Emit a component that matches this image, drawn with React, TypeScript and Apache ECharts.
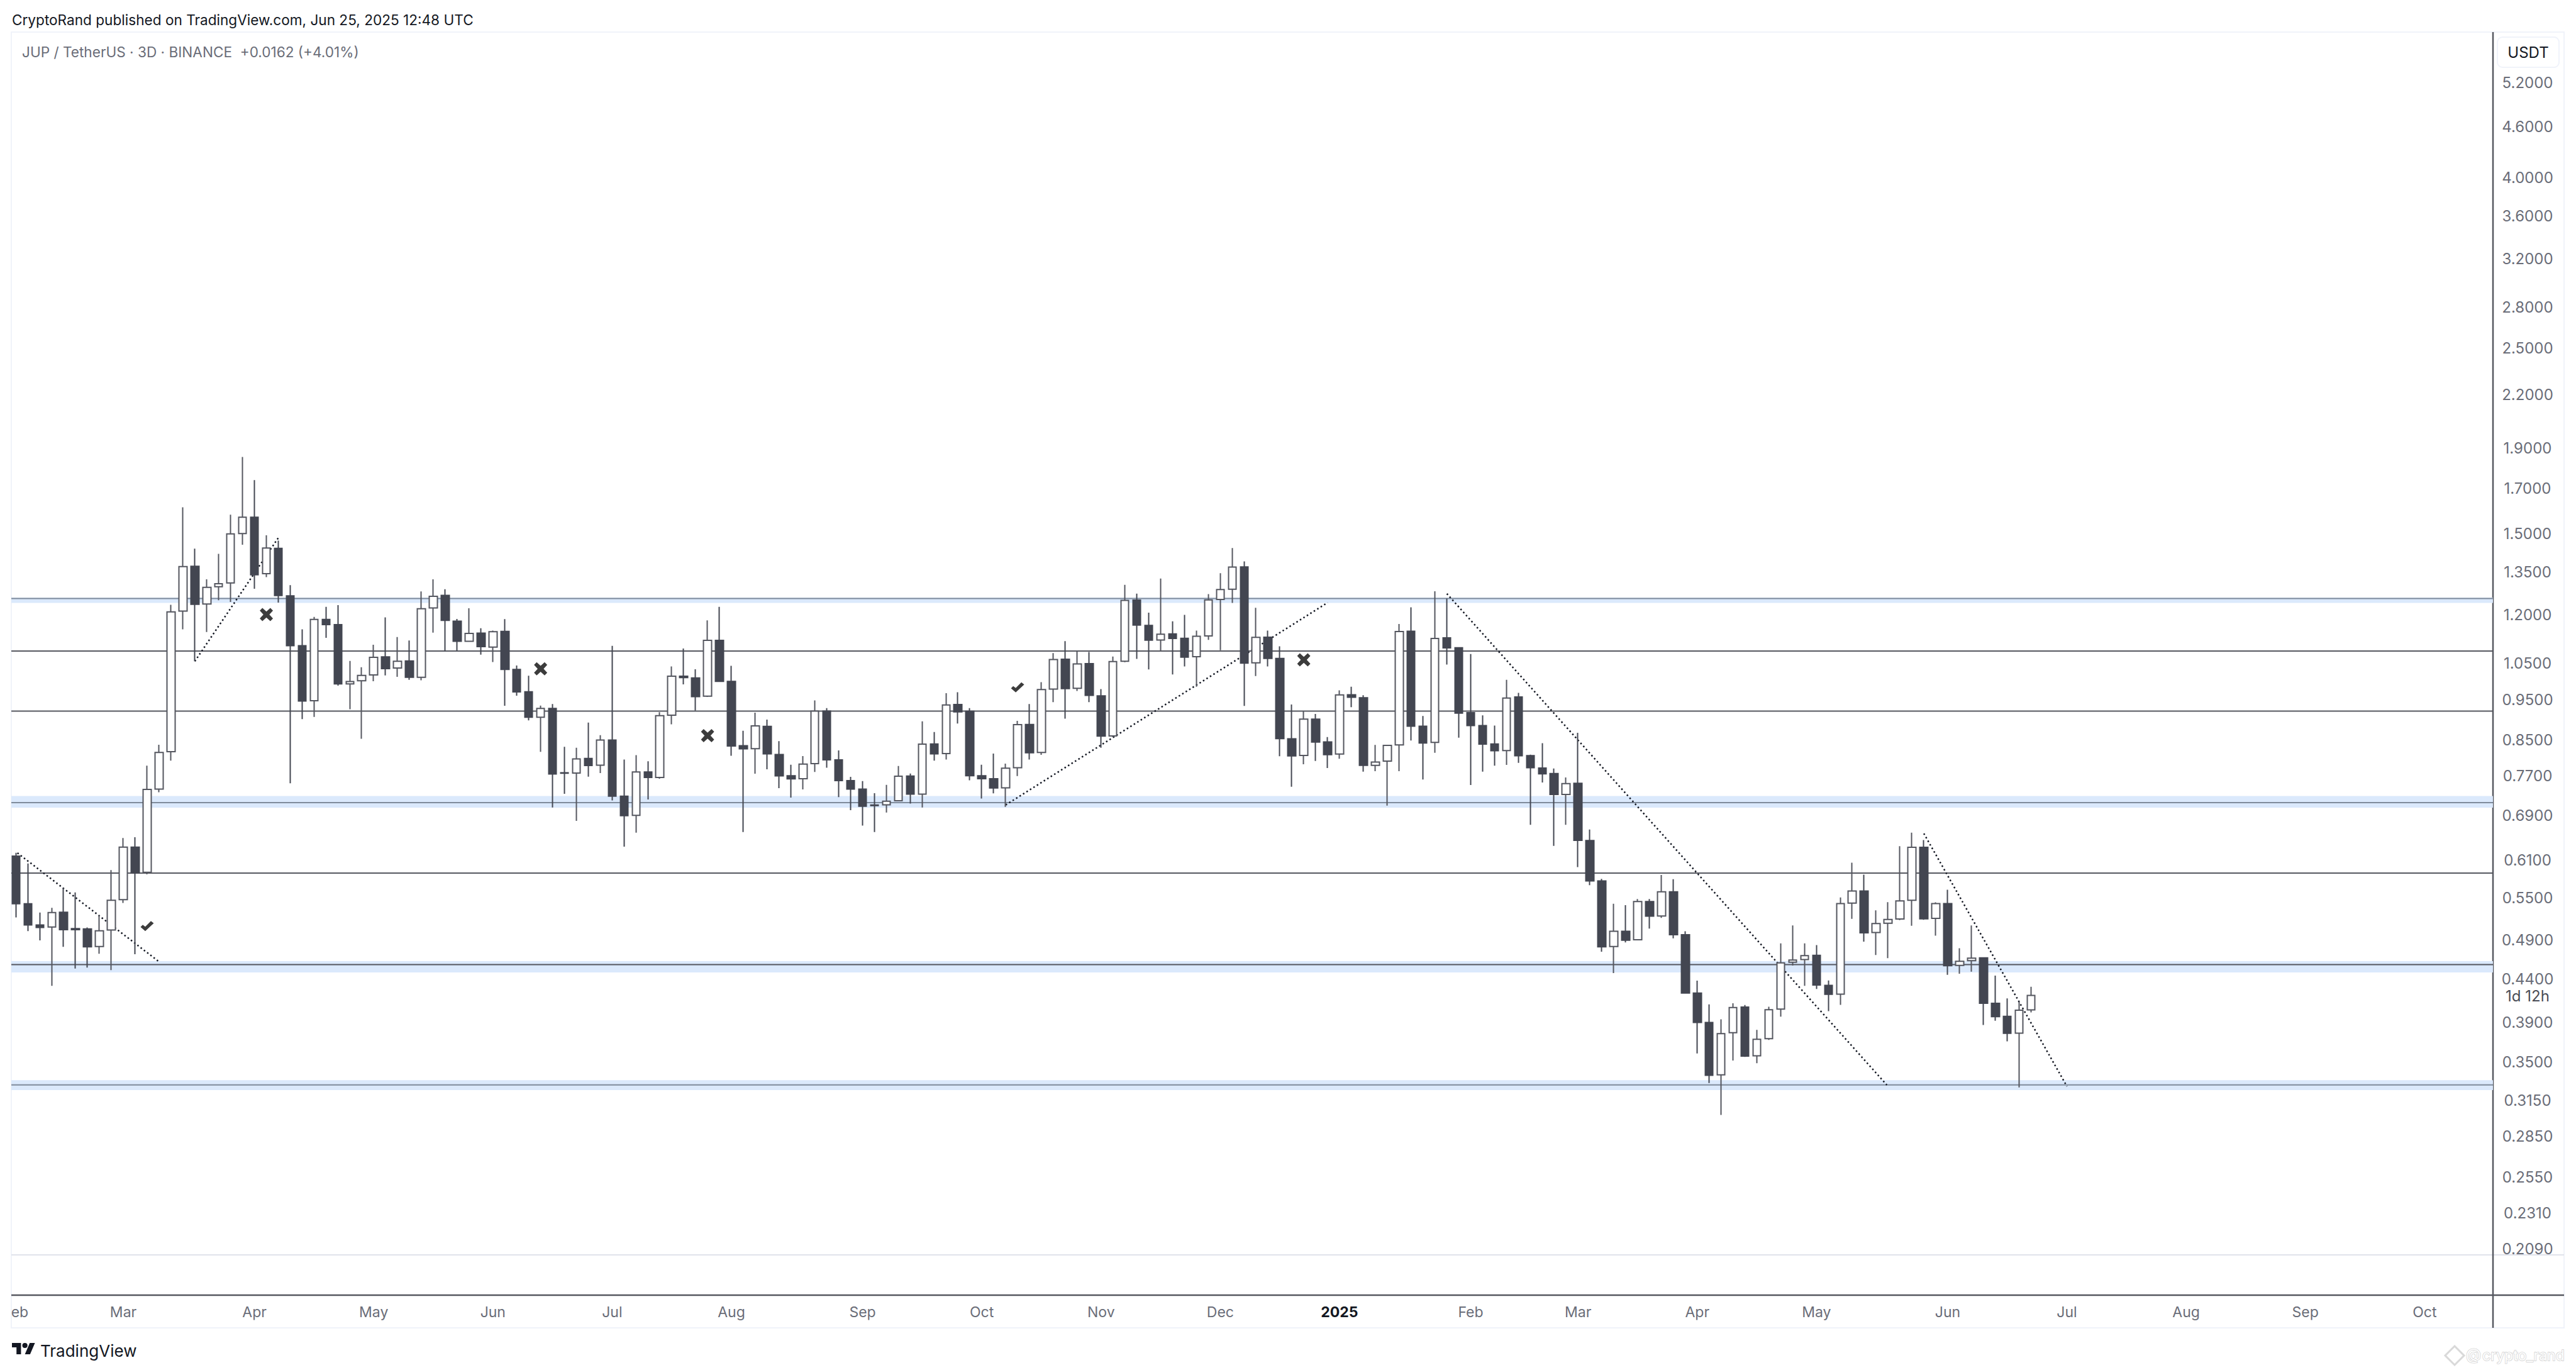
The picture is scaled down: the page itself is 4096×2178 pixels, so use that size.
import React, { useEffect, useRef } from "react";
import * as echarts from "echarts";

const opens = [
.6172,.5414,.5106,.5076,.5288,.5055,.505,.4812,.5036,.5474,
.6326,.5904,.7424,.8231,1.212,1.3713,1.236,1.2965,1.3098,1.501,
1.57,1.3437,1.441,1.264,1.102,.9468,1.1846,1.168,.992,1.0007,
1.0168,1.0684,1.0364,1.0568,1.0101,1.2226,1.2658,1.1792,1.1156,1.1406,
1.0979,1.1463,1.032,.9707,.905,.9271,.7766,.776,.8078,.7927,
.8496,.728,.6905,.7782,.7666,.91,1.0131,1.0084,.959,1.1185,
.9989,.8366,.8298,.8825,.8167,.7703,.764,.7964,.9204,.8047,
.76,.7423,.7106,.7109,.719,.7695,.732,.8407,.8185,.9372,
.9199,.77,.7639,.745,.7872,.887,.821,.9779,1.0615,.9797,
1.0488,.9598,.8595,1.0555,1.2493,1.1654,1.1194,1.1383,1.1248,1.0689,
1.1321,1.2516,1.2876,1.3693,1.0513,1.128,1.0641,.8527,.8144,.9002,
.8452,.8175,.9628,.9548,.7924,.8017,.8383,1.1467,.8826,.8441,
1.126,1.0958,.9162,.8842,.8407,.8253,.9567,.8142,.7866,.7748,
.7315,.7544,.6443,.5763,.4811,.5018,.4902,.5447,.5234,.5595,
.4971,.4232,.3903,.3379,.3794,.4073,.356,.3732,.405,.4608,
.4642,.4695,.4324,.422,.5422,.5607,.5,.5131,.5191,.5466,
.6324,.5199,.5415,.4568,.4628,.4664,.4115,.3969,.379,.4041,
];
const closes = [
.5414,.5106,.5071,.5283,.504,.504,.4807,.5025,.5464,.6326,
.5892,.7417,.8212,1.2097,1.37,1.2347,1.294,1.307,1.4995,1.57,
1.34,1.442,1.265,1.102,.946,1.1846,1.168,.992,.9985,1.0154,
1.0672,1.0346,1.0557,1.0101,1.22,1.2626,1.1815,1.1156,1.1398,1.0993,
1.1455,1.032,.97,.905,.9271,.774,.7755,.8068,.7922,.8496,
.728,.69,.7782,.7666,.9087,1.0131,1.0091,.9577,1.1185,.9989,
.836,.8292,.8835,.8178,.7698,.7635,.7953,.9204,.8047,.76,
.7423,.7081,.7092,.7181,.769,.732,.8403,.8179,.9361,.9182,
.77,.7639,.7447,.7864,.8864,.8204,.9765,1.0607,.979,1.048,
.9609,.8589,1.055,1.2486,1.1661,1.1187,1.1375,1.124,1.0676,1.1308,
1.2501,1.286,1.3684,1.0501,1.1275,1.0641,.8532,.8134,.9002,.8449,
.8163,.9622,.9561,.7924,.7997,.8373,1.1459,.8826,.8429,1.1239,
1.0953,.9151,.8842,.8401,.8249,.9541,.8137,.7872,.7742,.7315,
.7538,.6445,.5763,.4808,.5018,.4895,.5447,.523,.5595,.4971,
.4232,.3903,.3375,.3785,.4067,.3557,.3727,.4042,.4599,.4635,
.4692,.4326,.4218,.5416,.5607,.4997,.5125,.5184,.5456,.6324,
.5193,.5415,.4564,.462,.466,.4115,.3966,.3788,.4037,.4204,
];
const highs = [
.6228,.6048,.5283,.5353,.5655,.5584,.507,.5242,.594,.6488,
.6502,.7918,.8389,1.2332,1.6135,1.4395,1.3228,1.4194,1.5806,1.853,
1.7387,1.4935,1.472,1.302,1.1525,1.1929,1.2264,1.232,1.0568,1.0386,
1.1047,1.1914,1.1287,1.1177,1.2797,1.3228,1.2876,1.186,1.2214,1.156,
1.1486,1.1856,1.0434,1.0143,.9345,.9382,.8342,.832,.8915,.8614,
1.1016,.8053,.815,.8016,.9174,1.0406,1.0935,1.0327,1.1815,1.2262,
1.0427,.8716,.9161,.899,.8472,.7937,.813,.9479,.9278,.8258,
.7677,.7589,.7341,.751,.7911,.7747,.8946,.8688,.967,.9692,
.9278,.794,.8185,.7963,.8958,.9383,.9964,1.0797,1.116,1.0877,
1.083,.9779,1.0696,1.3029,1.2717,1.207,1.3257,1.1786,1.1998,1.149,
1.2701,1.3453,1.4422,1.3899,1.2231,1.149,1.0999,.9372,.921,.913,
.8566,.9742,.9843,.9615,.8383,.8383,1.1699,1.2247,.9078,1.2801,
1.2551,1.0966,1.0768,.9095,.8842,1.003,.9678,.8163,.8423,.7855,
.7664,.8668,.6641,.5796,.5412,.5392,.5483,.5483,.5859,.5792,
.5018,.4379,.4103,.3937,.4115,.4096,.3824,.4075,.4854,.5099,
.4854,.483,.4381,.5508,.6061,.5864,.5316,.5437,.6344,.6583,
.6451,.5434,.5626,.4788,.5099,.4668,.444,.4171,.413,.4307,
];
const lows = [
.5212,.5021,.4894,.4317,.4807,.4528,.454,.4716,.4508,.5424,
.4711,.5869,.736,.8028,1.1525,1.0557,1.1444,1.249,1.243,1.455,
1.289,1.331,1.241,.7544,.9,.9055,1.126,.987,.925,.8526,
.9991,1.0154,1.0112,1.003,1.0016,1.1425,1.0847,1.086,1.114,1.0751,
1.0534,.9338,.96,.897,.8224,.7057,.7327,.68,.7683,.776,
.7195,.6334,.6583,.7213,.764,.8875,.9904,.9215,.957,.9975,
.8136,.6596,.7746,.7839,.7442,.7252,.7418,.7782,.7874,.7262,
.7005,.6714,.6596,.6959,.718,.7133,.7055,.8029,.8054,.8891,
.7605,.7233,.7337,.7068,.7696,.8054,.8159,.9434,.9014,.9728,
.9434,.832,.8564,1.053,1.0628,1.0321,1.0864,1.0179,1.0408,.984,
1.12,1.0883,1.2399,.9335,1.0136,1.0408,.8126,.7473,.7949,.802,
.7866,.8069,.9303,.7789,.7798,.7092,.7798,.8486,.7621,.8203,
1.0462,.8554,.7507,.7789,.7918,.7934,.7981,.6729,.7559,.6349,
.6729,.5989,.5698,.4744,.4472,.4865,.4895,.5055,.5205,.492,
.4226,.3583,.3304,.3025,.3514,.355,.3488,.372,.3966,.4565,
.4318,.4281,.4026,.4097,.5193,.4876,.47,.466,.5175,.5094,
.5178,.4958,.445,.4464,.449,.3876,.3922,.3705,.3264,.4012,
];

const BAR_SLOTS = 208;
const monthLabels: [number, string][] = [
  [0, "eb"], [9, "Mar"], [20, "Apr"], [30, "May"], [40, "Jun"], [50, "Jul"], [60, "Aug"], [71, "Sep"],
  [81, "Oct"], [91, "Nov"], [101, "Dec"], [111, "2025"], [122, "Feb"], [131, "Mar"], [141, "Apr"],
  [151, "May"], [162, "Jun"], [172, "Jul"], [182, "Aug"], [192, "Sep"], [202, "Oct"],
];
const priceTicks = [5.2, 4.6, 4.0, 3.6, 3.2, 2.8, 2.5, 2.2, 1.9, 1.7, 1.5, 1.35, 1.2, 1.05, 0.95, 0.85, 0.77, 0.69, 0.61, 0.55, 0.49, 0.44, 0.39, 0.35, 0.315, 0.285, 0.255, 0.231, 0.209];
const plainLevels = [1.0858, 0.9202, 0.589, 0.4577];
const zoneLevels = [1.2548, 0.7151, 0.3287];
const zoneTops = [1.2581, 0.7283, 0.4621, 0.333];
const zoneBottoms = [1.2397, 0.7053, 0.4479, 0.3239];
const trendLines: [number, number, number, number][] = [
  [0.12, 0.6226, 12.04, 0.4609],
  [15, 1.0556, 22, 1.4832],
  [83, 0.7106, 110, 1.2408],
  [120, 1.2717, 156.9, 0.3285],
  [160, 0.6569, 172, 0.3273],
];
const crossMarks = [[21, 1.2006], [44, 1.034], [58, 0.86], [108, 1.0597]];
const checkMarks = [[11, 0.509], [84, 0.9825]];

const PRICE_MAX = 5.974;
const PRICE_MIN = 0.18415;
const BAR_X_MIN = -0.3903;
const BAR_X_MAX = 207.73;

const DARK = "#434651";
const EDGE = "#54565f";
const FAINT = "#f0f3fa";
const TEXT_GREY = "#6a6d78";
const SANS = "Inter";

const X_PATH = "path://M4 0L10 5.5L16 0L20 4L14.5 10L20 16L16 20L10 14.5L4 20L0 16L5.5 10L0 4Z";
const CHECK_PATH = "path://M0 9.5L3.5 6L7.5 9L16.5 0L21 3.5L7.5 16Z";
const LOGO_D = "M14 22H7V11H0V4h14v18zM28 22h-8l7.5-18h8L28 22zM24 8a4 4 0 1 1-8 0 4 4 0 0 1 8 0z";

export default function App() {
  const ref = useRef<HTMLDivElement>(null);
  useEffect(() => {
    echarts.graphic.registerShape("tvlogo", echarts.graphic.extendPath(LOGO_D, {}));
    const chart = echarts.init(ref.current!, null, { renderer: "svg" });
    const labelAt = new Map(monthLabels);
    const categories = Array.from({ length: BAR_SLOTS }, (_, i) => String(i));
    const hline = (level: number, color: string, width: number) => (params: any, api: any) => {
      const a = api.coord([BAR_X_MIN, level]);
      const b = api.coord([BAR_X_MAX, level]);
      return { type: "line", shape: { x1: a[0], y1: a[1], x2: b[0], y2: b[1] }, style: { stroke: color, lineWidth: width } };
    };
    const option: any = {
      animation: false,
      backgroundColor: "#ffffff",
      grid: [
        { left: 15.92, top: 51, width: 3943.68, height: 2008 },
        { left: 18, top: 51, width: 3946, height: 2008 },
      ],
      xAxis: [
        {
          type: "category",
          gridIndex: 0,
          data: categories,
          axisLine: { show: false },
          axisTick: { show: false },
          splitLine: { show: false },
          axisLabel: {
            interval: 0,
            margin: 15,
            fontFamily: SANS,
            fontSize: 23,
            color: TEXT_GREY,
            formatter: (v: string) => {
              const name = labelAt.get(Number(v));
              if (!name) return "";
              if (name === "2025") return "{y|2025}";
              if (name === "eb") return "{e|eb}";
              return name;
            },
            rich: {
              y: { fontFamily: SANS, fontSize: 23, fontWeight: 700, color: "#131722" },
              e: { fontFamily: SANS, fontSize: 23, color: TEXT_GREY, padding: [0, 0, 0, 12] },
            },
          },
        },
        { type: "value", gridIndex: 1, min: BAR_X_MIN, max: BAR_X_MAX, show: false, splitLine: { show: false } },
      ],
      yAxis: [
        { type: "log", gridIndex: 0, min: PRICE_MIN, max: PRICE_MAX, show: false, splitLine: { show: false } },
        { type: "log", gridIndex: 1, min: PRICE_MIN, max: PRICE_MAX, show: false, splitLine: { show: false } },
      ],
      series: [
        ...zoneTops.map((top, i) => ({
          type: "custom",
          xAxisIndex: 1,
          yAxisIndex: 1,
          z: 1,
          silent: true,
          data: [[0, top]],
          renderItem: (params: any, api: any) => {
            const a = api.coord([BAR_X_MIN, top]);
            const b = api.coord([BAR_X_MAX, zoneBottoms[i]]);
            return { type: "rect", shape: { x: a[0], y: a[1], width: b[0] - a[0], height: b[1] - a[1] }, style: { fill: "#dbe9fc" } };
          },
        })),
        ...plainLevels.map((level) => ({
          type: "custom", xAxisIndex: 1, yAxisIndex: 1, z: 2, silent: true, data: [[0, level]],
          renderItem: hline(level, "#55575f", 2),
        })),
        ...zoneLevels.map((level) => ({
          type: "custom", xAxisIndex: 1, yAxisIndex: 1, z: 2, silent: true, data: [[0, level]],
          renderItem: hline(level, "#7f8b9b", 2),
        })),
        ...trendLines.map(([x1, y1, x2, y2]) => ({
          type: "line",
          xAxisIndex: 1,
          yAxisIndex: 1,
          z: 3,
          silent: true,
          symbol: "none",
          lineStyle: { color: "#131722", width: 2.5, type: [2.5, 4] },
          data: [[x1, y1], [x2, y2]],
        })),
        {
          type: "candlestick",
          xAxisIndex: 0,
          yAxisIndex: 0,
          z: 5,
          barWidth: 13,
          itemStyle: { color: "#ffffff", color0: DARK, borderColor: EDGE, borderColor0: DARK, borderWidth: 2 },
          data: opens.map((o, i) => [o, closes[i], lows[i], highs[i]]),
        },
        {
          type: "scatter", xAxisIndex: 1, yAxisIndex: 1, z: 6, silent: true,
          symbol: X_PATH, symbolSize: 21, itemStyle: { color: "#0b0b0b" }, data: crossMarks,
        },
        {
          type: "scatter", xAxisIndex: 1, yAxisIndex: 1, z: 6, silent: true,
          symbol: CHECK_PATH, symbolSize: [21, 16], itemStyle: { color: "#0b0b0b" }, data: checkMarks,
        },
        {
          type: "custom",
          xAxisIndex: 1,
          yAxisIndex: 1,
          z: 6,
          silent: true,
          clip: false,
          data: priceTicks.map((p) => [BAR_X_MAX, p]),
          renderItem: (params: any, api: any) => {
            const pt = api.coord([api.value(0), api.value(1)]);
            return {
              type: "text",
              x: pt[0] + 55,
              y: pt[1],
              style: {
                text: api.value(1).toFixed(4),
                fill: TEXT_GREY,
                fontFamily: SANS,
                fontSize: 24,
                textAlign: "center",
                textVerticalAlign: "middle",
              },
            };
          },
        },
      ],
      graphic: [
        { type: "rect", z: 0, shape: { x: 18, y: 51, width: 4059, height: 2060 }, style: { fill: "transparent", stroke: FAINT, lineWidth: 2 } },
        { type: "line", z: 0, shape: { x1: 18, y1: 1995, x2: 4077, y2: 1995 }, style: { stroke: "#e0e3eb", lineWidth: 2 } },
        { type: "line", z: 0, shape: { x1: 18, y1: 2059, x2: 4077, y2: 2059 }, style: { stroke: "#55575f", lineWidth: 2.5 } },
        { type: "line", z: 0, shape: { x1: 3964, y1: 51, x2: 3964, y2: 2111 }, style: { stroke: "#55575f", lineWidth: 2.5 } },
        { type: "rect", z: 0, shape: { x: 3971, y: 59, width: 98, height: 48, r: 8 }, style: { fill: "#fff", stroke: FAINT, lineWidth: 2 } },
        { type: "text", z: 10, x: 4020, y: 83, style: { text: "USDT", fill: "#131722", fontFamily: SANS, fontSize: 24, textAlign: "center", textVerticalAlign: "middle" } },
        { type: "text", z: 10, x: 4019, y: 1583, style: { text: "1d 12h", fill: "#4a4c55", fontFamily: SANS, fontSize: 24, textAlign: "center", textVerticalAlign: "middle" } },
        { type: "text", z: 10, x: 19, y: 31, style: { text: "CryptoRand published on TradingView.com, Jun 25, 2025 12:48 UTC", fill: "#131722", fontFamily: SANS, fontSize: 22.6, textVerticalAlign: "middle" } },
        { type: "text", z: 10, x: 35, y: 82, style: { text: "JUP / TetherUS · 3D · BINANCE  +0.0162 (+4.01%)", fill: TEXT_GREY, fontFamily: SANS, fontSize: 22.6, textVerticalAlign: "middle" } },
        { type: "tvlogo", z: 10, x: 19, y: 2131, scaleX: 1.03, scaleY: 1, style: { fill: "#131722" } },
        { type: "text", z: 10, x: 64, y: 2147, style: { text: "TradingView", fill: "#131722", fontFamily: SANS, fontSize: 26, textVerticalAlign: "middle" } },
        { type: "polygon", z: 10, shape: { points: [[3903, 2140], [3918, 2155], [3903, 2170], [3888, 2155]] }, style: { fill: "transparent", stroke: "#d9d9d9", lineWidth: 3 } },
        { type: "text", z: 10, x: 3921, y: 2153, style: { text: "@", fill: "#fff", stroke: "#cfcfcf", lineWidth: 1.5, fontFamily: SANS, fontSize: 25, textVerticalAlign: "middle" } },
        { type: "text", z: 10, x: 3947, y: 2155, style: { text: "crypto_rand", fill: "#fff", stroke: "#cfcfcf", lineWidth: 1.5, fontFamily: SANS, fontSize: 23, textVerticalAlign: "middle" } },
      ],
    };
    chart.setOption(option);
    return () => chart.dispose();
  }, []);
  return <div ref={ref} style={{ position: "absolute", left: 0, top: 0, width: 4096, height: 2178 }} />;
}
